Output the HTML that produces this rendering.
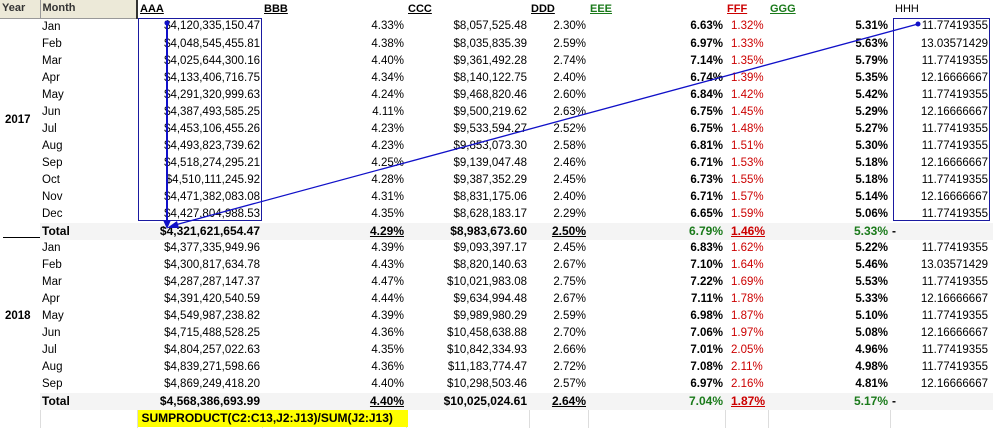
<!DOCTYPE html>
<html><head><meta charset="utf-8"><style>
body{margin:0;width:993px;height:425px;background:#fff;overflow:hidden;position:relative;font-family:"Liberation Sans",sans-serif;font-size:11.5px;color:#000}
table{border-collapse:collapse;table-layout:fixed;position:absolute;left:0;top:0;width:993px}
td{height:17px;padding:0 2px 0 2px;white-space:nowrap;overflow:hidden;text-align:right;line-height:17px;box-sizing:border-box}
td.l{text-align:left}
tr.h td{height:18px;font-weight:bold;text-align:left;font-size:11px}
tr.h td.g{background:#ece9d8;color:#333;border-right:1px solid #999;border-bottom:1px solid #999}
u{text-decoration:underline}
.gr{color:#1a7a1a}.rd{color:#c00}.b{font-weight:bold}
td.rd{text-align:left;padding-left:6px}
td.hh{padding-right:5px}
tr.t td{background:#f4f4f4;font-weight:bold;font-family:"Liberation Sans Narrow","Liberation Sans",sans-serif;font-size:12px}
tr.t td.y{background:#fff}
.yr{font-weight:bold;text-align:left;vertical-align:middle;padding-left:5px}
tr.f td{border-right:1px solid #ddd}
</style></head><body>
<table>
<colgroup><col style="width:40px"><col style="width:97px"><col style="width:125px"><col style="width:144px"><col style="width:123px"><col style="width:59px"><col style="width:137px"><col style="width:43px"><col style="width:122px"><col style="width:103px"></colgroup>
<tr class="h"><td class="g">Year</td><td class="g" style="border-right:2px solid #333">Month</td><td><u>AAA</u></td><td><u>BBB</u></td><td><u>CCC</u></td><td><u>DDD</u></td><td class="gr"><u>EEE</u></td><td class="rd" style="padding-left:2px"><u>FFF</u></td><td class="gr"><u>GGG</u></td><td style="font-weight:normal;padding-left:5px">HHH</td></tr>
<tr><td class="yr" rowspan="12">2017</td><td class="l">Jan</td><td>$4,120,335,150.47</td><td>4.33%</td><td>$8,057,525.48</td><td>2.30%</td><td class="b">6.63%</td><td class="rd">1.32%</td><td class="b">5.31%</td><td class="hh">11.77419355</td></tr>
<tr><td class="l">Feb</td><td>$4,048,545,455.81</td><td>4.38%</td><td>$8,035,835.39</td><td>2.59%</td><td class="b">6.97%</td><td class="rd">1.33%</td><td class="b">5.63%</td><td class="hh">13.03571429</td></tr>
<tr><td class="l">Mar</td><td>$4,025,644,300.16</td><td>4.40%</td><td>$9,361,492.28</td><td>2.74%</td><td class="b">7.14%</td><td class="rd">1.35%</td><td class="b">5.79%</td><td class="hh">11.77419355</td></tr>
<tr><td class="l">Apr</td><td>$4,133,406,716.75</td><td>4.34%</td><td>$8,140,122.75</td><td>2.40%</td><td class="b">6.74%</td><td class="rd">1.39%</td><td class="b">5.35%</td><td class="hh">12.16666667</td></tr>
<tr><td class="l">May</td><td>$4,291,320,999.63</td><td>4.24%</td><td>$9,468,820.46</td><td>2.60%</td><td class="b">6.84%</td><td class="rd">1.42%</td><td class="b">5.42%</td><td class="hh">11.77419355</td></tr>
<tr><td class="l">Jun</td><td>$4,387,493,585.25</td><td>4.11%</td><td>$9,500,219.62</td><td>2.63%</td><td class="b">6.75%</td><td class="rd">1.45%</td><td class="b">5.29%</td><td class="hh">12.16666667</td></tr>
<tr><td class="l">Jul</td><td>$4,453,106,455.26</td><td>4.23%</td><td>$9,533,594.27</td><td>2.52%</td><td class="b">6.75%</td><td class="rd">1.48%</td><td class="b">5.27%</td><td class="hh">11.77419355</td></tr>
<tr><td class="l">Aug</td><td>$4,493,823,739.62</td><td>4.23%</td><td>$9,853,073.30</td><td>2.58%</td><td class="b">6.81%</td><td class="rd">1.51%</td><td class="b">5.30%</td><td class="hh">11.77419355</td></tr>
<tr><td class="l">Sep</td><td>$4,518,274,295.21</td><td>4.25%</td><td>$9,139,047.48</td><td>2.46%</td><td class="b">6.71%</td><td class="rd">1.53%</td><td class="b">5.18%</td><td class="hh">12.16666667</td></tr>
<tr><td class="l">Oct</td><td>$4,510,111,245.92</td><td>4.28%</td><td>$9,387,352.29</td><td>2.45%</td><td class="b">6.73%</td><td class="rd">1.55%</td><td class="b">5.18%</td><td class="hh">11.77419355</td></tr>
<tr><td class="l">Nov</td><td>$4,471,382,083.08</td><td>4.31%</td><td>$8,831,175.06</td><td>2.40%</td><td class="b">6.71%</td><td class="rd">1.57%</td><td class="b">5.14%</td><td class="hh">12.16666667</td></tr>
<tr><td class="l">Dec</td><td>$4,427,804,988.53</td><td>4.35%</td><td>$8,628,183.17</td><td>2.29%</td><td class="b">6.65%</td><td class="rd">1.59%</td><td class="b">5.06%</td><td class="hh">11.77419355</td></tr>
<tr class="t"><td class="y"></td><td class="l">Total</td><td>$4,321,621,654.47</td><td><u>4.29%</u></td><td>$8,983,673.60</td><td><u>2.50%</u></td><td class="gr">6.79%</td><td class="rd"><u>1.46%</u></td><td class="gr">5.33%</td><td class="l">-</td></tr>
<tr><td class="yr" rowspan="9">2018</td><td class="l">Jan</td><td>$4,377,335,949.96</td><td>4.39%</td><td>$9,093,397.17</td><td>2.45%</td><td class="b">6.83%</td><td class="rd">1.62%</td><td class="b">5.22%</td><td class="hh">11.77419355</td></tr>
<tr><td class="l">Feb</td><td>$4,300,817,634.78</td><td>4.43%</td><td>$8,820,140.63</td><td>2.67%</td><td class="b">7.10%</td><td class="rd">1.64%</td><td class="b">5.46%</td><td class="hh">13.03571429</td></tr>
<tr><td class="l">Mar</td><td>$4,287,287,147.37</td><td>4.47%</td><td>$10,021,983.08</td><td>2.75%</td><td class="b">7.22%</td><td class="rd">1.69%</td><td class="b">5.53%</td><td class="hh">11.77419355</td></tr>
<tr><td class="l">Apr</td><td>$4,391,420,540.59</td><td>4.44%</td><td>$9,634,994.48</td><td>2.67%</td><td class="b">7.11%</td><td class="rd">1.78%</td><td class="b">5.33%</td><td class="hh">12.16666667</td></tr>
<tr><td class="l">May</td><td>$4,549,987,238.82</td><td>4.39%</td><td>$9,989,980.29</td><td>2.59%</td><td class="b">6.98%</td><td class="rd">1.87%</td><td class="b">5.10%</td><td class="hh">11.77419355</td></tr>
<tr><td class="l">Jun</td><td>$4,715,488,528.25</td><td>4.36%</td><td>$10,458,638.88</td><td>2.70%</td><td class="b">7.06%</td><td class="rd">1.97%</td><td class="b">5.08%</td><td class="hh">12.16666667</td></tr>
<tr><td class="l">Jul</td><td>$4,804,257,022.63</td><td>4.35%</td><td>$10,842,334.93</td><td>2.66%</td><td class="b">7.01%</td><td class="rd">2.05%</td><td class="b">4.96%</td><td class="hh">11.77419355</td></tr>
<tr><td class="l">Aug</td><td>$4,839,271,598.66</td><td>4.36%</td><td>$11,183,774.47</td><td>2.72%</td><td class="b">7.08%</td><td class="rd">2.11%</td><td class="b">4.98%</td><td class="hh">11.77419355</td></tr>
<tr><td class="l">Sep</td><td>$4,869,249,418.20</td><td>4.40%</td><td>$10,298,503.46</td><td>2.57%</td><td class="b">6.97%</td><td class="rd">2.16%</td><td class="b">4.81%</td><td class="hh">12.16666667</td></tr>
<tr class="t"><td class="y"></td><td class="l">Total</td><td>$4,568,386,693.99</td><td><u>4.40%</u></td><td>$10,025,024.61</td><td><u>2.64%</u></td><td class="gr">7.04%</td><td class="rd"><u>1.87%</u></td><td class="gr">5.17%</td><td class="l">-</td></tr>
<tr class="f"><td></td><td></td><td style="overflow:visible;text-align:left;padding:0"><span style="background:#ffff00;font-family:'Liberation Sans Narrow','Liberation Sans',sans-serif;font-weight:bold;font-size:12px;display:inline-block;width:270px;height:17px;line-height:17px;padding-left:4px;box-sizing:border-box">SUMPRODUCT(C2:C13,J2:J13)/SUM(J2:J13)</span></td><td></td><td></td><td></td><td></td><td></td><td></td><td></td></tr>
</table>
<div style="position:absolute;left:3px;top:237px;width:37px;height:1px;background:#000"></div>
<svg style="position:absolute;left:0;top:0" width="993" height="425">
<rect x="138.5" y="18.5" width="123" height="202" fill="none" stroke="#1a1aa0" stroke-width="1"/>
<rect x="893.5" y="18.5" width="96" height="202" fill="none" stroke="#1a1aa0" stroke-width="1"/>
<line x1="167" y1="23" x2="167" y2="222" stroke="#1010c8" stroke-width="2"/>
<circle cx="167" cy="23" r="2.5" fill="#1010c8"/>
<polygon points="163,220 171,220 167,229" fill="#1010c8"/>
<line x1="918" y1="24" x2="175" y2="225" stroke="#1010c8" stroke-width="1.3"/>
<circle cx="918" cy="24" r="2.5" fill="#1010c8"/>
<polygon points="167,228 177,221 179,228" fill="#1010c8"/>
</svg>
</body></html>
